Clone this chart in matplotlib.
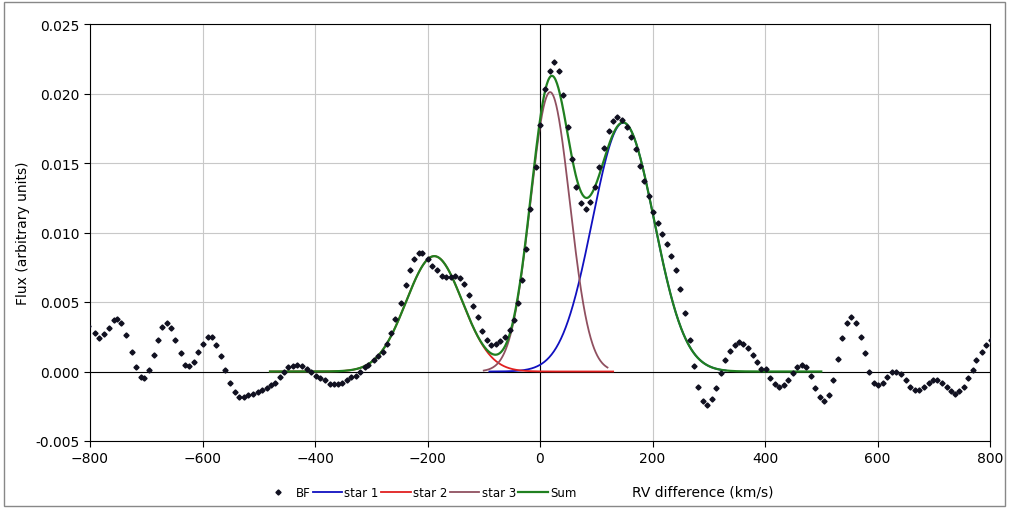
import numpy as np
import matplotlib
matplotlib.use("Agg")
import matplotlib.pyplot as plt
from matplotlib.patches import Rectangle

bf_rv = [-803,-792,-784,-775,-766,-757,-752,-745,-736,-726,-719,-710,-704,-696,-687,-679,-672,-663,-656,-649,
         -639,-631,-624,-616,-608,-599,-591,-584,-576,-568,-560,-551,-542,-535,-527,-519,-510,-502,-494,-486,
         -478,-471,-463,-455,-448,-440,-432,-424,-415,-407,-399,-391,-382,-373,-366,-359,-352,-344,-336,-328,
         -320,-312,-305,-296,-288,-280,-272,-265,-257,-248,-239,-231,-224,-216,-209,-200,-192,-184,-175,-167,
         -159,-151,-143,-135,-127,-120,-111,-103,-95,-87,-79,-71,-62,-54,-46,-39,-32,-25,-17,-7,
         0,8,17,25,33,41,49,57,64,73,82,89,98,105,114,122,129,137,146,154,
         162,171,178,185,193,201,209,217,225,233,241,249,258,266,273,281,289,297,305,313,
         321,329,338,346,354,361,370,378,385,393,402,409,417,425,434,441,449,456,465,473,
         481,489,498,505,514,521,530,537,545,552,562,570,577,585,593,601,609,617,625,633,
         641,650,658,667,674,683,691,699,706,715,723,731,738,745,754,761,769,776,785,793,801]
bf_flux = [0.0033,0.0028,0.0024,0.0027,0.0031,0.0037,0.0038,0.0035,0.0026,0.0014,0.0003,-0.0004,-0.0005,0.0001,0.0012,0.0023,0.0032,0.0035,0.0031,0.0023,
           0.0013,0.0005,0.0004,0.0007,0.0014,0.0020,0.0025,0.0025,0.0019,0.0011,0.0001,-0.0008,-0.0015,-0.0018,-0.0018,-0.0017,-0.0016,-0.0015,-0.0013,-0.0012,
           -0.0010,-0.0008,-0.0004,0.0000,0.0003,0.0004,0.0005,0.0004,0.0002,0.0000,-0.0003,-0.0005,-0.0006,-0.0009,-0.0009,-0.0009,-0.0008,-0.0006,-0.0004,-0.0003,
           0.0000,0.0003,0.0005,0.0008,0.0011,0.0014,0.0020,0.0028,0.0038,0.0049,0.0062,0.0073,0.0081,0.0085,0.0085,0.0081,0.0076,0.0073,0.0069,0.0068,
           0.0068,0.0069,0.0067,0.0063,0.0055,0.0047,0.0039,0.0029,0.0023,0.0019,0.0020,0.0022,0.0025,0.0030,0.0037,0.0049,0.0066,0.0088,0.0117,0.0147,
           0.0177,0.0203,0.0216,0.0223,0.0216,0.0199,0.0176,0.0153,0.0133,0.0121,0.0117,0.0122,0.0133,0.0147,0.0161,0.0173,0.0180,0.0183,0.0181,0.0176,
           0.0169,0.0160,0.0148,0.0137,0.0126,0.0115,0.0107,0.0099,0.0092,0.0083,0.0073,0.0059,0.0042,0.0023,0.0004,-0.0011,-0.0021,-0.0024,-0.0020,-0.0012,
           -0.0001,0.0008,0.0015,0.0019,0.0021,0.0020,0.0017,0.0012,0.0007,0.0002,0.0002,-0.0005,-0.0009,-0.0011,-0.0010,-0.0006,-0.0001,0.0003,0.0005,0.0003,
           -0.0003,-0.0012,-0.0018,-0.0021,-0.0017,-0.0006,0.0009,0.0024,0.0035,0.0039,0.0035,0.0025,0.0013,0.0000,-0.0008,-0.0010,-0.0008,-0.0004,0.0000,0.0000,
           -0.0002,-0.0006,-0.0011,-0.0013,-0.0013,-0.0011,-0.0008,-0.0006,-0.0006,-0.0008,-0.0011,-0.0014,-0.0016,-0.0014,-0.0011,-0.0005,0.0001,0.0008,0.0014,0.0019,0.0023]

# Gaussian fit components: (center km/s, amplitude, sigma km/s, drawn range)
star1 = dict(center=148, amp=0.0179, sigma=55, lo=-90, hi=330)
star2 = dict(center=-188, amp=0.0083, sigma=50, lo=-480, hi=130)
star3 = dict(center=18, amp=0.0201, sigma=35, lo=-100, hi=120)
sum_range = (-480, 500)

def g(x, p):
    return p["amp"] * np.exp(-(x - p["center"])**2 / (2 * p["sigma"]**2))

fig = plt.figure(figsize=(10.09, 5.10), dpi=100)
fig.patches.append(Rectangle((0.004, 0.006), 0.992, 0.988, transform=fig.transFigure,
                             fill=False, edgecolor="#888888", lw=1))
ax = fig.add_axes([90/1009, 1-442/510, 900/1009, 417/510])
ax.set_xlim(-800, 800)
ax.set_ylim(-0.005, 0.025)
ax.set_xticks(np.arange(-800, 801, 200))
ax.set_yticks(np.arange(-0.005, 0.0251, 0.005))
ax.yaxis.set_major_formatter(matplotlib.ticker.FormatStrFormatter("%.3f"))
ax.grid(True, color="#c8c8c8", lw=0.8)
ax.set_axisbelow(True)
ax.axhline(0, color="black", lw=0.8)
ax.axvline(0, color="black", lw=0.8)
for s in ax.spines.values():
    s.set_color("black")
ax.tick_params(labelsize=10, length=4, direction="out")

for p, c, lab in [(star1, "#1010c0", "star 1"), (star2, "#e02020", "star 2"), (star3, "#905060", "star 3")]:
    xx = np.linspace(p["lo"], p["hi"], 400)
    ax.plot(xx, g(xx, p), color=c, lw=1.3, label=lab)
xs = np.linspace(*sum_range, 800)
ax.plot(xs, g(xs, star1) + g(xs, star2) + g(xs, star3), color="#208020", lw=1.6, label="Sum")
ax.plot(bf_rv, bf_flux, linestyle="none", marker="D", ms=2.6, color="#101020", label="BF", zorder=5)

ax.set_ylabel("Flux (arbitrary units)", fontsize=10)
fig.text(703/1009, 1-493/510, "RV difference (km/s)", ha="center", va="center", fontsize=10)
h, l = ax.get_legend_handles_labels()
order = [4, 0, 1, 2, 3]
fig.legend([h[i] for i in order], [l[i] for i in order], loc="center", bbox_to_anchor=(420/1009, 1-494/510),
           ncol=5, frameon=False, fontsize=8.5, handlelength=2.5, columnspacing=0.2, handletextpad=0.2)
fig.savefig("out.png", dpi=100)
